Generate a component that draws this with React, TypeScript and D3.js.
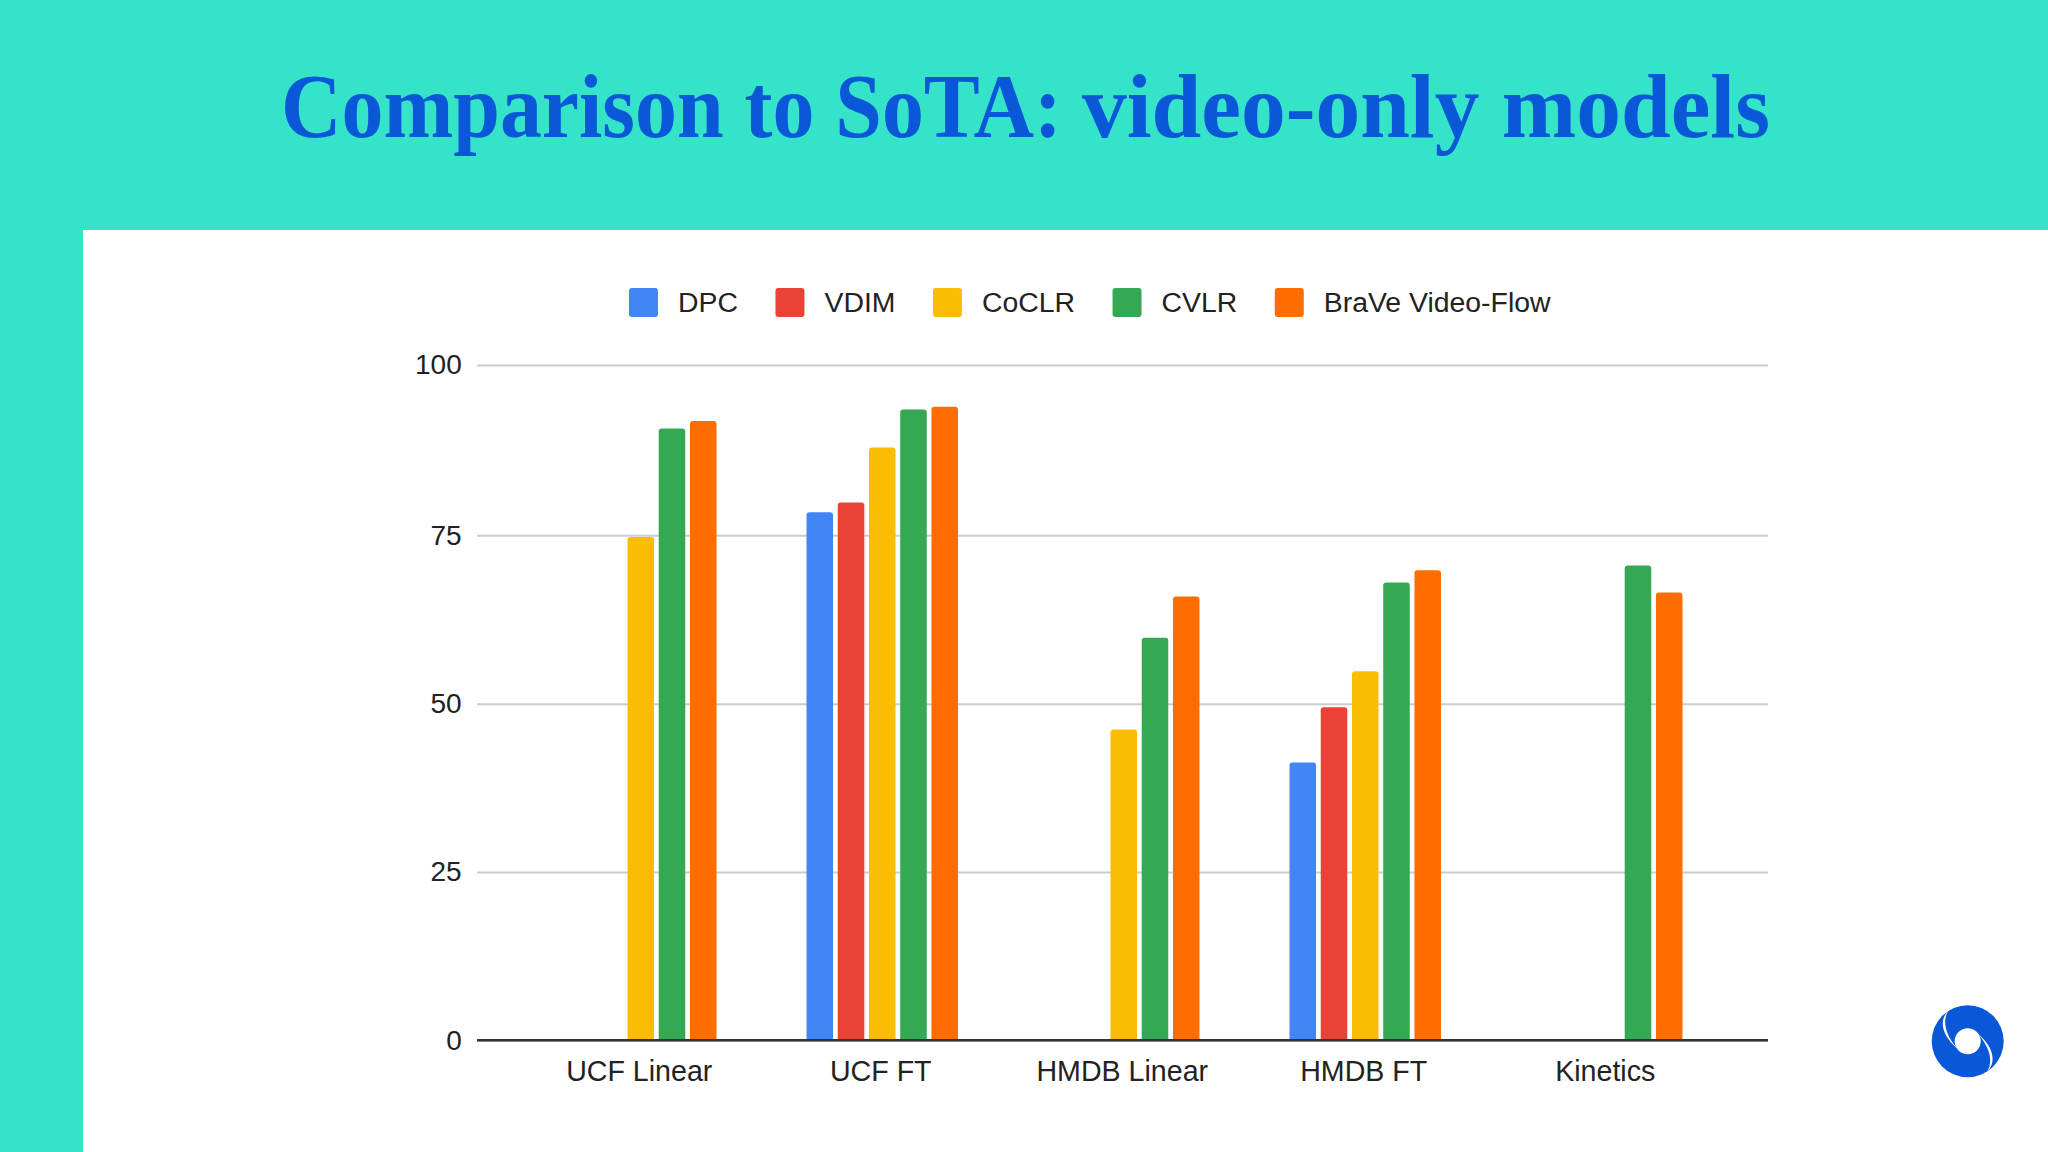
import { useEffect, useRef } from 'react';
import * as d3 from 'd3';

const categories = ['UCF Linear', 'UCF FT', 'HMDB Linear', 'HMDB FT', 'Kinetics'];
const seriesNames = ['DPC', 'VDIM', 'CoCLR', 'CVLR', 'BraVe Video-Flow'];
const seriesColors = ['#4285f4', '#ea4335', '#fbbc04', '#34a853', '#ff6d01'];
const yTicks = [0, 25, 50, 75, 100];

const dpc = [null, 78.4, null, 41.25, null];
const vdim = [null, 79.8, null, 49.46, null];
const coclr = [74.74, 87.9, 46.16, 54.8, null];
const cvlr = [90.69, 93.47, 59.8, 68.0, 70.5];
const brave = [91.78, 93.86, 65.9, 69.8, 66.5];
const seriesValues: (number | null)[][] = [dpc, vdim, coclr, cvlr, brave];

const W = 2048;
const H = 1152;
const FONT = '"Liberation Sans", Arial, sans-serif';
const GROUP_WIDTH = 151.5;

export default function App() {
  const svgRef = useRef<SVGSVGElement>(null);

  useEffect(() => {
    if (!svgRef.current) return;
    document.body.style.margin = '0';

    const svg = d3.select(svgRef.current);
    svg.selectAll('*').remove();

    // Slide background
    svg.append('rect').attr('width', W).attr('height', H).attr('fill', '#35e3c8');
    svg.append('rect').attr('x', 83).attr('y', 230).attr('width', W - 83).attr('height', H - 230).attr('fill', '#ffffff');

    const title = svg.append('text')
      .attr('y', 137)
      .style('font-family', '"Liberation Serif", serif')
      .style('font-weight', 'bold')
      .style('font-size', '90px')
      .style('fill', '#0a58d8');
    title.append('tspan')
      .attr('x', 281)
      .attr('textLength', 802)
      .attr('lengthAdjust', 'spacingAndGlyphs')
      .text('Comparison to SoTA: ');
    title.append('tspan')
      .attr('x', 1082)
      .attr('textLength', 688)
      .attr('lengthAdjust', 'spacingAndGlyphs')
      .text('video-only models');

    // Scales (the picture is slightly stretched in the top slot, hence three stops)
    const y = d3.scaleLinear().domain([0, 75, 100]).range([1040.3, 535.3, 365]);
    const x0 = d3.scaleBand().domain(categories).range([520, 1727.5]);
    const x1 = d3.scaleBand<number>()
      .domain(d3.range(seriesNames.length))
      .range([0, GROUP_WIDTH])
      .paddingInner(0.15);
    const groupOffset = (x0.bandwidth() - GROUP_WIDTH) / 2;

    // Gridlines and y labels
    const yAxis = svg.append('g')
      .attr('transform', 'translate(477,0)')
      .call(d3.axisLeft(y).tickValues(yTicks).tickSize(-1291).tickPadding(15.3));
    yAxis.select('.domain').remove();
    yAxis.selectAll('.tick line').attr('stroke', '#cccccc').attr('stroke-width', 2);
    yAxis.selectAll('.tick text')
      .style('font-family', FONT)
      .style('font-size', '28px')
      .style('fill', '#222222');

    // Bars
    const barPath = (bx: number, by: number, w: number, h: number) => {
      const r = 3;
      return `M${bx},${by + h}V${by + r}Q${bx},${by} ${bx + r},${by}H${bx + w - r}Q${bx + w},${by} ${bx + w},${by + r}V${by + h}Z`;
    };

    seriesValues.forEach((values, s) => {
      svg.append('g')
        .selectAll('path')
        .data(values.map((v, i) => ({ v, cat: categories[i] })).filter(d => d.v !== null))
        .enter()
        .append('path')
        .attr('d', d => barPath(
          (x0(d.cat) as number) + groupOffset + (x1(s) as number),
          y(d.v as number),
          x1.bandwidth(),
          y(0) - y(d.v as number)
        ))
        .attr('fill', seriesColors[s]);
    });

    // X axis
    const xAxis = svg.append('g')
      .attr('transform', 'translate(0,1040)')
      .call(d3.axisBottom(x0).tickSize(0).tickPadding(21));
    xAxis.select('.domain').remove();
    xAxis.selectAll('.tick text')
      .attr('dx', -1.5)
      .style('font-family', FONT)
      .style('font-size', '28.6px')
      .style('fill', '#222222');
    svg.append('line')
      .attr('x1', 477).attr('x2', 1768)
      .attr('y1', y(0)).attr('y2', y(0))
      .attr('stroke', '#333333')
      .attr('stroke-width', 2.4);

    // Legend, laid out from the measured label widths
    const legend = svg.append('g');
    let cursor = 629;
    seriesNames.forEach((name, i) => {
      legend.append('rect')
        .attr('x', cursor).attr('y', 288)
        .attr('width', 29).attr('height', 29)
        .attr('rx', 3)
        .attr('fill', seriesColors[i]);
      const label = legend.append('text')
        .attr('x', cursor + 49)
        .attr('y', 312)
        .style('font-family', FONT)
        .style('font-size', '28.4px')
        .style('fill', '#222222')
        .text(name);
      const node = label.node() as SVGTextElement;
      cursor += 49 + node.getComputedTextLength() + 37.5;
    });

    // Logo
    const logo = svg.append('g').attr('transform', 'translate(1967.7,1041.3)');
    logo.append('circle').attr('r', 36).attr('fill', '#0a58d8');
    logo.append('circle').attr('r', 13).attr('fill', '#ffffff');
    const swirl = 'M-19.5,-30.5C-27,-23 -29,-9 -10.3,7.5C-24.5,-9 -24.5,-22 -19.5,-30.5Z';
    logo.append('path').attr('d', swirl).attr('fill', '#ffffff');
    logo.append('path').attr('d', swirl).attr('fill', '#ffffff').attr('transform', 'rotate(180)');
  }, []);

  return (
    <svg
      ref={svgRef}
      width={W}
      height={H}
      style={{ position: 'absolute', left: 0, top: 0, display: 'block' }}
    />
  );
}
